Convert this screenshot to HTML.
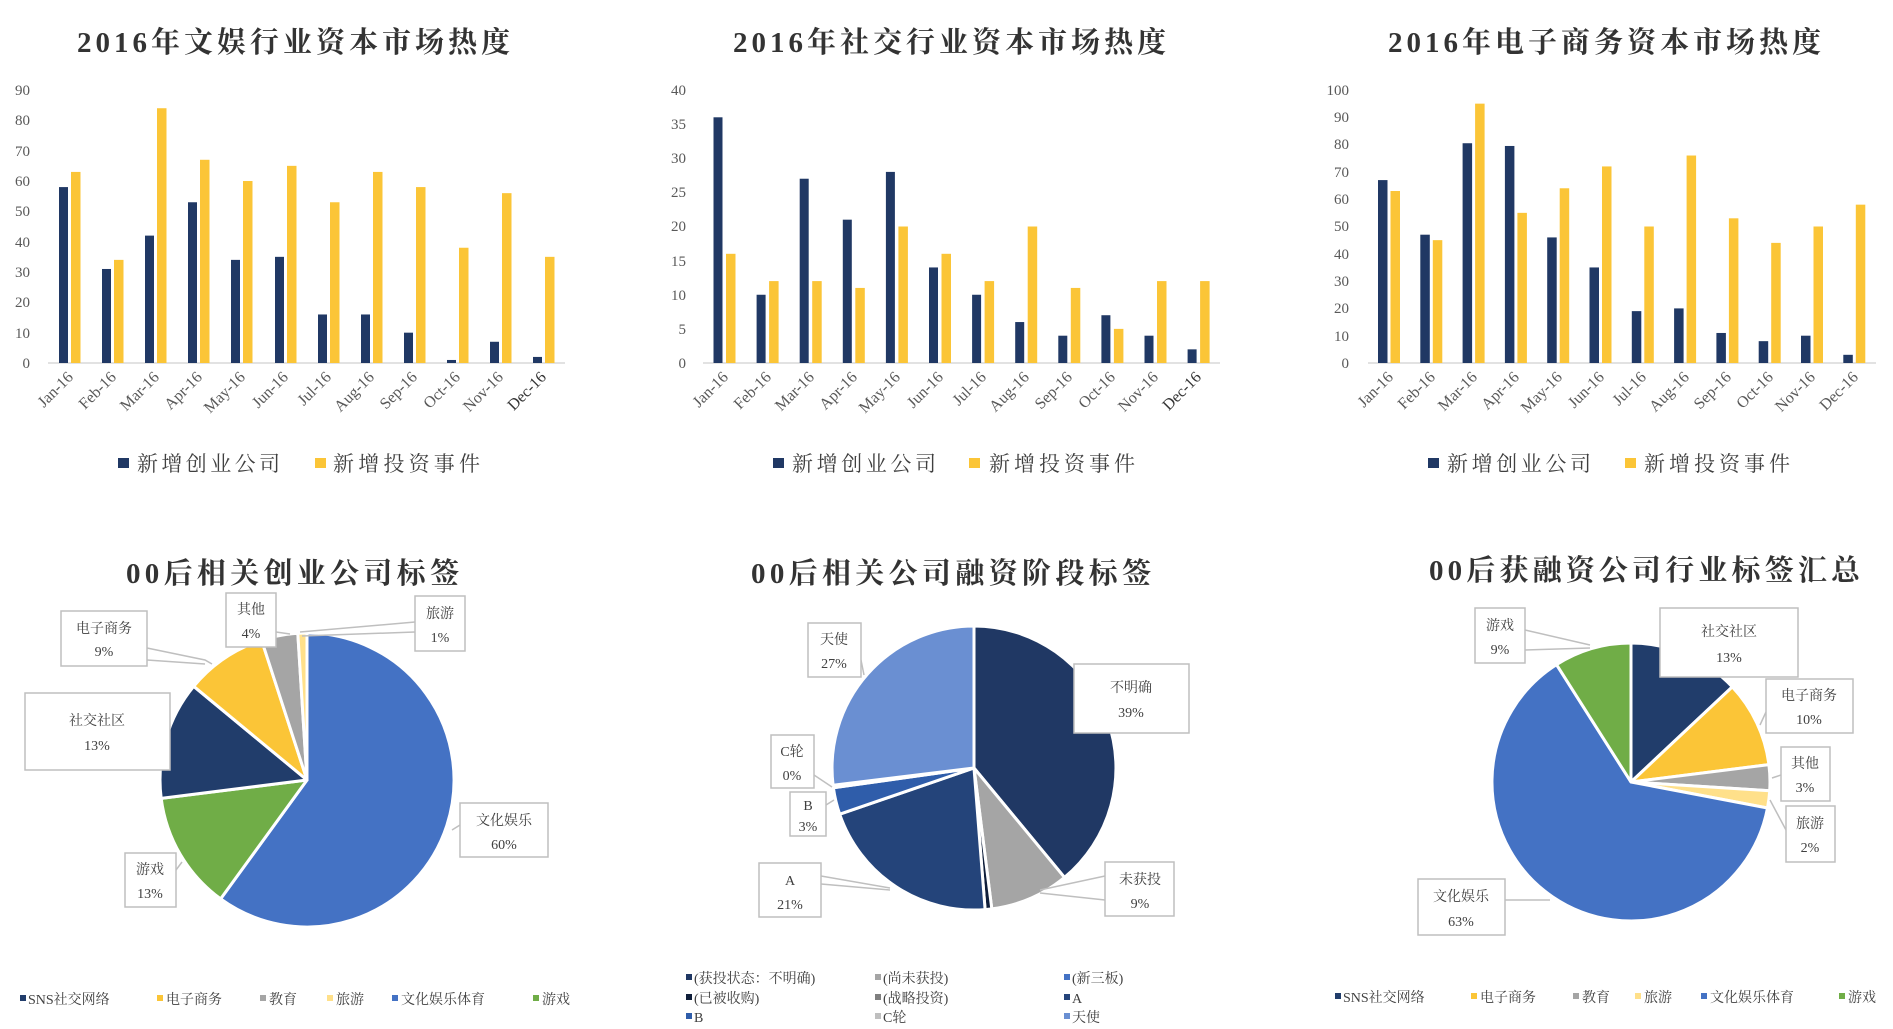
<!DOCTYPE html>
<html><head><meta charset="utf-8"><style>
html,body{margin:0;padding:0;background:#fff}
svg{display:block}
text{font-family:"Liberation Serif","Noto Serif CJK SC",serif}
.t{font-size:29px;font-weight:bold;fill:#333}
.y{font-size:15px;fill:#595959;text-anchor:end}
.x{font-size:16px;fill:#595959;text-anchor:end}
.lg{font-size:21px;fill:#404040}
.pl{font-size:14px;fill:#404040;text-anchor:middle}
.pg{font-size:14px;fill:#404040}
.bx{fill:#fff;stroke:#bfbfbf;stroke-width:1.5}
.ld{fill:none;stroke:#bfbfbf;stroke-width:1.5}
</style></head><body>
<svg width="1893" height="1029" viewBox="0 0 1893 1029" xmlns="http://www.w3.org/2000/svg">
<rect width="1893" height="1029" fill="#fff"/>

<!-- ===== Chart 1 ===== -->
<text class="t" x="77" y="52" textLength="433" lengthAdjust="spacing">2016年文娱行业资本市场热度</text>
<g class="y">
<text x="30" y="368">0</text><text x="30" y="338">10</text><text x="30" y="307">20</text><text x="30" y="277">30</text><text x="30" y="247">40</text><text x="30" y="216">50</text><text x="30" y="186">60</text><text x="30" y="156">70</text><text x="30" y="125">80</text><text x="30" y="95">90</text>
</g>
<line x1="48" y1="363" x2="565" y2="363" stroke="#d9d9d9" stroke-width="1.5"/>
<g transform="translate(0,363) scale(1,-3.033)">
<g fill="#203864">
<rect x="59" y="0" width="9" height="58"/><rect x="102" y="0" width="9" height="31"/><rect x="145" y="0" width="9" height="42"/><rect x="188" y="0" width="9" height="53"/><rect x="231" y="0" width="9" height="34"/><rect x="275" y="0" width="9" height="35"/><rect x="318" y="0" width="9" height="16"/><rect x="361" y="0" width="9" height="16"/><rect x="404" y="0" width="9" height="10"/><rect x="447" y="0" width="9" height="1"/><rect x="490" y="0" width="9" height="7"/><rect x="533" y="0" width="9" height="2"/>
</g>
<g fill="#FBC537">
<rect x="71" y="0" width="9.5" height="63"/><rect x="114" y="0" width="9.5" height="34"/><rect x="157" y="0" width="9.5" height="84"/><rect x="200" y="0" width="9.5" height="67"/><rect x="243" y="0" width="9.5" height="60"/><rect x="287" y="0" width="9.5" height="65"/><rect x="330" y="0" width="9.5" height="53"/><rect x="373" y="0" width="9.5" height="63"/><rect x="416" y="0" width="9.5" height="58"/><rect x="459" y="0" width="9.5" height="38"/><rect x="502" y="0" width="9.5" height="56"/><rect x="545" y="0" width="9.5" height="35"/>
</g></g>
<g class="x">
<text transform="translate(74,378) rotate(-45)">Jan-16</text><text transform="translate(117,378) rotate(-45)">Feb-16</text><text transform="translate(160,378) rotate(-45)">Mar-16</text><text transform="translate(203,378) rotate(-45)">Apr-16</text><text transform="translate(246,378) rotate(-45)">May-16</text><text transform="translate(289,378) rotate(-45)">Jun-16</text><text transform="translate(332,378) rotate(-45)">Jul-16</text><text transform="translate(375,378) rotate(-45)">Aug-16</text><text transform="translate(418,378) rotate(-45)">Sep-16</text><text transform="translate(461,378) rotate(-45)">Oct-16</text><text transform="translate(504,378) rotate(-45)">Nov-16</text><text transform="translate(547,378) rotate(-45)" style="fill:#333">Dec-16</text>
</g>
<rect x="118" y="458" width="11" height="10" fill="#203864"/>
<text class="lg" x="137" y="471" textLength="143" lengthAdjust="spacing">新增创业公司</text>
<rect x="315" y="458" width="11" height="10" fill="#FBC537"/>
<text class="lg" x="333" y="471" textLength="147" lengthAdjust="spacing">新增投资事件</text>

<!-- ===== Chart 2 ===== -->
<text class="t" x="733" y="52" textLength="433" lengthAdjust="spacing">2016年社交行业资本市场热度</text>
<g class="y">
<text x="686" y="368">0</text><text x="686" y="334">5</text><text x="686" y="300">10</text><text x="686" y="266">15</text><text x="686" y="231">20</text><text x="686" y="197">25</text><text x="686" y="163">30</text><text x="686" y="129">35</text><text x="686" y="95">40</text>
</g>
<line x1="703" y1="363" x2="1220" y2="363" stroke="#d9d9d9" stroke-width="1.5"/>
<g transform="translate(0,363) scale(1,-6.825)">
<g fill="#203864">
<rect x="713.5" y="0" width="9" height="36"/><rect x="756.6" y="0" width="9" height="10"/><rect x="799.7" y="0" width="9" height="27"/><rect x="842.8" y="0" width="9" height="21"/><rect x="885.9" y="0" width="9" height="28"/><rect x="929" y="0" width="9" height="14"/><rect x="972.1" y="0" width="9" height="10"/><rect x="1015.2" y="0" width="9" height="6"/><rect x="1058.3" y="0" width="9" height="4"/><rect x="1101.4" y="0" width="9" height="7"/><rect x="1144.5" y="0" width="9" height="4"/><rect x="1187.6" y="0" width="9" height="2"/>
</g>
<g fill="#FBC537">
<rect x="726" y="0" width="9.5" height="16"/><rect x="769.1" y="0" width="9.5" height="12"/><rect x="812.2" y="0" width="9.5" height="12"/><rect x="855.3" y="0" width="9.5" height="11"/><rect x="898.4" y="0" width="9.5" height="20"/><rect x="941.5" y="0" width="9.5" height="16"/><rect x="984.6" y="0" width="9.5" height="12"/><rect x="1027.7" y="0" width="9.5" height="20"/><rect x="1070.8" y="0" width="9.5" height="11"/><rect x="1113.9" y="0" width="9.5" height="5"/><rect x="1157" y="0" width="9.5" height="12"/><rect x="1200.1" y="0" width="9.5" height="12"/>
</g></g>
<g class="x">
<text transform="translate(729,378) rotate(-45)">Jan-16</text><text transform="translate(772,378) rotate(-45)">Feb-16</text><text transform="translate(815,378) rotate(-45)">Mar-16</text><text transform="translate(858,378) rotate(-45)">Apr-16</text><text transform="translate(901,378) rotate(-45)">May-16</text><text transform="translate(944,378) rotate(-45)">Jun-16</text><text transform="translate(987,378) rotate(-45)">Jul-16</text><text transform="translate(1030,378) rotate(-45)">Aug-16</text><text transform="translate(1073,378) rotate(-45)">Sep-16</text><text transform="translate(1116,378) rotate(-45)">Oct-16</text><text transform="translate(1159,378) rotate(-45)">Nov-16</text><text transform="translate(1202,378) rotate(-45)" style="fill:#333">Dec-16</text>
</g>
<rect x="773" y="458" width="11" height="10" fill="#203864"/>
<text class="lg" x="792" y="471" textLength="144" lengthAdjust="spacing">新增创业公司</text>
<rect x="969" y="458" width="11" height="10" fill="#FBC537"/>
<text class="lg" x="989" y="471" textLength="146" lengthAdjust="spacing">新增投资事件</text>

<!-- ===== Chart 3 ===== -->
<text class="t" x="1388" y="52" textLength="433" lengthAdjust="spacing">2016年电子商务资本市场热度</text>
<g class="y">
<text x="1349" y="368">0</text><text x="1349" y="341">10</text><text x="1349" y="313">20</text><text x="1349" y="286">30</text><text x="1349" y="259">40</text><text x="1349" y="231">50</text><text x="1349" y="204">60</text><text x="1349" y="177">70</text><text x="1349" y="149">80</text><text x="1349" y="122">90</text><text x="1349" y="95">100</text>
</g>
<line x1="1368" y1="363" x2="1876" y2="363" stroke="#d9d9d9" stroke-width="1.5"/>
<g transform="translate(0,363) scale(1,-2.73)">
<g fill="#203864">
<rect x="1378" y="0" width="9.5" height="67"/><rect x="1420.3" y="0" width="9.5" height="47"/><rect x="1462.6" y="0" width="9.5" height="80.5"/><rect x="1504.9" y="0" width="9.5" height="79.5"/><rect x="1547.2" y="0" width="9.5" height="46"/><rect x="1589.5" y="0" width="9.5" height="35"/><rect x="1631.8" y="0" width="9.5" height="19"/><rect x="1674.1" y="0" width="9.5" height="20"/><rect x="1716.4" y="0" width="9.5" height="11"/><rect x="1758.7" y="0" width="9.5" height="8"/><rect x="1801" y="0" width="9.5" height="10"/><rect x="1843.3" y="0" width="9.5" height="3"/>
</g>
<g fill="#FBC537">
<rect x="1390.5" y="0" width="9.5" height="63"/><rect x="1432.8" y="0" width="9.5" height="45"/><rect x="1475.1" y="0" width="9.5" height="95"/><rect x="1517.4" y="0" width="9.5" height="55"/><rect x="1559.7" y="0" width="9.5" height="64"/><rect x="1602" y="0" width="9.5" height="72"/><rect x="1644.3" y="0" width="9.5" height="50"/><rect x="1686.6" y="0" width="9.5" height="76"/><rect x="1728.9" y="0" width="9.5" height="53"/><rect x="1771.2" y="0" width="9.5" height="44"/><rect x="1813.5" y="0" width="9.5" height="50"/><rect x="1855.8" y="0" width="9.5" height="58"/>
</g></g>
<g class="x">
<text transform="translate(1394,378) rotate(-45)">Jan-16</text><text transform="translate(1436,378) rotate(-45)">Feb-16</text><text transform="translate(1478,378) rotate(-45)">Mar-16</text><text transform="translate(1520,378) rotate(-45)">Apr-16</text><text transform="translate(1563,378) rotate(-45)">May-16</text><text transform="translate(1605,378) rotate(-45)">Jun-16</text><text transform="translate(1647,378) rotate(-45)">Jul-16</text><text transform="translate(1690,378) rotate(-45)">Aug-16</text><text transform="translate(1732,378) rotate(-45)">Sep-16</text><text transform="translate(1774,378) rotate(-45)">Oct-16</text><text transform="translate(1816,378) rotate(-45)">Nov-16</text><text transform="translate(1859,378) rotate(-45)">Dec-16</text>
</g>
<rect x="1428" y="458" width="11" height="10" fill="#203864"/>
<text class="lg" x="1447" y="471" textLength="144" lengthAdjust="spacing">新增创业公司</text>
<rect x="1625" y="458" width="11" height="10" fill="#FBC537"/>
<text class="lg" x="1644" y="471" textLength="146" lengthAdjust="spacing">新增投资事件</text>

<!-- ===== Pie 1 ===== -->
<text class="t" x="126" y="583" textLength="333" lengthAdjust="spacing">00后相关创业公司标签</text>
<g stroke="#fff" stroke-width="3" stroke-linejoin="round">
<path d="M307,780 L307,633 A147,147 0 1 1 220.6,898.9 Z" fill="#4472C4"/>
<path d="M307,780 L220.6,898.9 A147,147 0 0 1 161.2,798.4 Z" fill="#70AD47"/>
<path d="M307,780 L161.2,798.4 A147,147 0 0 1 193.7,686.3 Z" fill="#213D6B"/>
<path d="M307,780 L193.7,686.3 A147,147 0 0 1 261.6,640.2 Z" fill="#FBC537"/>
<path d="M307,780 L261.6,640.2 A147,147 0 0 1 297.8,633.3 Z" fill="#A5A5A5"/>
<path d="M307,780 L297.8,633.3 A147,147 0 0 1 307,633 Z" fill="#FFE08A"/>
</g>
<polyline class="ld" points="147,648 205,660 212,664"/>
<polyline class="ld" points="147,660 205,664"/>
<polyline class="ld" points="276,632 290,634"/>
<polyline class="ld" points="415,622 300,632"/>
<polyline class="ld" points="415,632 302,636"/>
<polyline class="ld" points="460,825 452,830"/>
<polyline class="ld" points="176,870 182,862"/>
<rect class="bx" x="61" y="611" width="86" height="55"/>
<text class="pl" x="104" y="633">电子商务</text><text class="pl" x="104" y="656">9%</text>
<rect class="bx" x="226" y="593" width="50" height="54"/>
<text class="pl" x="251" y="614">其他</text><text class="pl" x="251" y="638">4%</text>
<rect class="bx" x="415" y="596" width="50" height="55"/>
<text class="pl" x="440" y="618">旅游</text><text class="pl" x="440" y="642">1%</text>
<rect class="bx" x="25" y="693" width="145" height="77"/>
<text class="pl" x="97" y="725">社交社区</text><text class="pl" x="97" y="750">13%</text>
<rect class="bx" x="125" y="853" width="51" height="54"/>
<text class="pl" x="150" y="874">游戏</text><text class="pl" x="150" y="898">13%</text>
<rect class="bx" x="460" y="803" width="88" height="54"/>
<text class="pl" x="504" y="825">文化娱乐</text><text class="pl" x="504" y="849">60%</text>
<g class="pg">
<rect x="20" y="995" width="6" height="6" fill="#213D6B"/><text x="28" y="1004">SNS社交网络</text>
<rect x="157" y="995" width="6" height="6" fill="#FBC537"/><text x="166" y="1004">电子商务</text>
<rect x="260" y="995" width="6" height="6" fill="#A5A5A5"/><text x="269" y="1004">教育</text>
<rect x="327" y="995" width="6" height="6" fill="#FFE08A"/><text x="336" y="1004">旅游</text>
<rect x="392" y="995" width="6" height="6" fill="#4472C4"/><text x="401" y="1004">文化娱乐体育</text>
<rect x="533" y="995" width="6" height="6" fill="#70AD47"/><text x="542" y="1004">游戏</text>
</g>

<!-- ===== Pie 2 ===== -->
<text class="t" x="751" y="583" textLength="400" lengthAdjust="spacing">00后相关公司融资阶段标签</text>
<g stroke="#fff" stroke-width="3" stroke-linejoin="round">
<path d="M974,768 L974,626 A142,142 0 0 1 1064.5,877.4 Z" fill="#203864"/>
<path d="M974,768 L1064.5,877.4 A142,142 0 0 1 991.8,908.9 Z" fill="#A5A5A5"/>
<path d="M974,768 L991.8,908.9 A142,142 0 0 1 985.1,909.6 Z" fill="#0F1E3A"/>
<path d="M974,768 L985.1,909.6 A142,142 0 0 1 839.7,814.2 Z" fill="#24447A"/>
<path d="M974,768 L839.7,814.2 A142,142 0 0 1 833.4,787.8 Z" fill="#2F5DAA"/>
<path d="M974,768 L833.4,787.8 A142,142 0 0 1 833.1,785.3 Z" fill="#BFBFBF"/>
<path d="M974,768 L833.1,785.3 A142,142 0 0 1 974,626 Z" fill="#6A8FD2"/>
</g>
<polyline class="ld" points="861,660 864,675"/>
<polyline class="ld" points="814,775 832,787"/>
<polyline class="ld" points="826,805 834,800"/>
<polyline class="ld" points="821,876 890,888"/>
<polyline class="ld" points="821,884 890,890"/>
<polyline class="ld" points="1105,876 1040,890"/>
<polyline class="ld" points="1105,900 1040,893"/>
<rect class="bx" x="808" y="623" width="53" height="54"/>
<text class="pl" x="834" y="644">天使</text><text class="pl" x="834" y="668">27%</text>
<rect class="bx" x="1074" y="664" width="115" height="69"/>
<text class="pl" x="1131" y="692">不明确</text><text class="pl" x="1131" y="717">39%</text>
<rect class="bx" x="771" y="735" width="43" height="53"/>
<text class="pl" x="792" y="756">C轮</text><text class="pl" x="792" y="780">0%</text>
<rect class="bx" x="790" y="792" width="36" height="44"/>
<text class="pl" x="808" y="810">B</text><text class="pl" x="808" y="831">3%</text>
<rect class="bx" x="759" y="863" width="62" height="54"/>
<text class="pl" x="790" y="885">A</text><text class="pl" x="790" y="909">21%</text>
<rect class="bx" x="1105" y="862" width="69" height="54"/>
<text class="pl" x="1140" y="884">未获投</text><text class="pl" x="1140" y="908">9%</text>
<g class="pg">
<rect x="686" y="974" width="6" height="6" fill="#203864"/><text x="694" y="983">(获投状态：不明确)</text>
<rect x="875" y="974" width="6" height="6" fill="#A5A5A5"/><text x="883" y="983">(尚未获投)</text>
<rect x="1064" y="974" width="6" height="6" fill="#4472C4"/><text x="1072" y="983">(新三板)</text>
<rect x="686" y="994" width="6" height="6" fill="#0F1E3A"/><text x="694" y="1003">(已被收购)</text>
<rect x="875" y="994" width="6" height="6" fill="#7F7F7F"/><text x="883" y="1003">(战略投资)</text>
<rect x="1064" y="994" width="6" height="6" fill="#24447A"/><text x="1072" y="1003">A</text>
<rect x="686" y="1013" width="6" height="6" fill="#2F5DAA"/><text x="694" y="1022">B</text>
<rect x="875" y="1013" width="6" height="6" fill="#BFBFBF"/><text x="883" y="1022">C轮</text>
<rect x="1064" y="1013" width="6" height="6" fill="#6A8FD2"/><text x="1072" y="1022">天使</text>
</g>

<!-- ===== Pie 3 ===== -->
<text class="t" x="1429" y="580" textLength="431" lengthAdjust="spacing">00后获融资公司行业标签汇总</text>
<g stroke="#fff" stroke-width="3" stroke-linejoin="round">
<path d="M1631,782 L1631,643 A139,139 0 0 1 1732.3,686.9 Z" fill="#213D6B"/>
<path d="M1631,782 L1732.3,686.9 A139,139 0 0 1 1768.9,764.6 Z" fill="#FBC537"/>
<path d="M1631,782 L1768.9,764.6 A139,139 0 0 1 1769.7,790.7 Z" fill="#A5A5A5"/>
<path d="M1631,782 L1769.7,790.7 A139,139 0 0 1 1767.5,808 Z" fill="#FFE08A"/>
<path d="M1631,782 L1767.5,808 A139,139 0 1 1 1556.5,664.6 Z" fill="#4472C4"/>
<path d="M1631,782 L1556.5,664.6 A139,139 0 0 1 1631,643 Z" fill="#70AD47"/>
</g>
<polyline class="ld" points="1525,630 1590,645"/>
<polyline class="ld" points="1525,650 1590,648"/>
<polyline class="ld" points="1766,712 1760,725"/>
<polyline class="ld" points="1781,775 1772,778"/>
<polyline class="ld" points="1786,830 1770,800"/>
<polyline class="ld" points="1505,900 1550,900"/>
<rect class="bx" x="1660" y="608" width="138" height="69"/>
<text class="pl" x="1729" y="636">社交社区</text><text class="pl" x="1729" y="662">13%</text>
<rect class="bx" x="1475" y="608" width="50" height="55"/>
<text class="pl" x="1500" y="630">游戏</text><text class="pl" x="1500" y="654">9%</text>
<rect class="bx" x="1766" y="679" width="87" height="54"/>
<text class="pl" x="1809" y="700">电子商务</text><text class="pl" x="1809" y="724">10%</text>
<rect class="bx" x="1781" y="747" width="49" height="54"/>
<text class="pl" x="1805" y="768">其他</text><text class="pl" x="1805" y="792">3%</text>
<rect class="bx" x="1786" y="806" width="49" height="56"/>
<text class="pl" x="1810" y="828">旅游</text><text class="pl" x="1810" y="852">2%</text>
<rect class="bx" x="1418" y="879" width="87" height="56"/>
<text class="pl" x="1461" y="901">文化娱乐</text><text class="pl" x="1461" y="926">63%</text>
<g class="pg">
<rect x="1335" y="993" width="6" height="6" fill="#213D6B"/><text x="1343" y="1002">SNS社交网络</text>
<rect x="1471" y="993" width="6" height="6" fill="#FBC537"/><text x="1480" y="1002">电子商务</text>
<rect x="1573" y="993" width="6" height="6" fill="#A5A5A5"/><text x="1582" y="1002">教育</text>
<rect x="1635" y="993" width="6" height="6" fill="#FFE08A"/><text x="1644" y="1002">旅游</text>
<rect x="1701" y="993" width="6" height="6" fill="#4472C4"/><text x="1710" y="1002">文化娱乐体育</text>
<rect x="1839" y="993" width="6" height="6" fill="#70AD47"/><text x="1848" y="1002">游戏</text>
</g>
</svg>
</body></html>
